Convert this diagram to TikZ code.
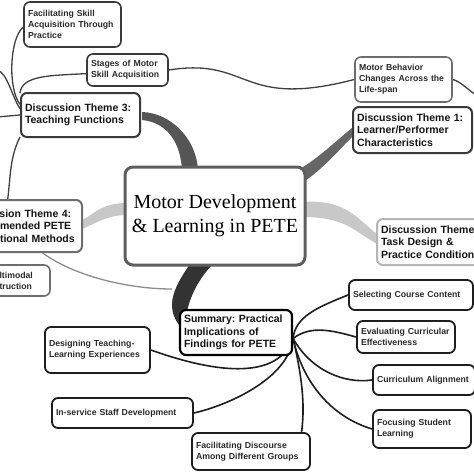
\documentclass[tikz,border=0pt]{standalone}
\usepackage{fontspec}
\setmainfont{Liberation Sans}
\newfontfamily\hubfont{Liberation Serif}
\usetikzlibrary{
    calc,
    backgrounds
}
\definecolor{BranchDark}{HTML}{555555}
\definecolor{BranchMid}{HTML}{666666}
\definecolor{BranchDeep}{HTML}{333333}
\definecolor{BranchPale}{HTML}{C8C8C8}
\definecolor{EdgeDark}{HTML}{3A3A3A}
\definecolor{EdgeGrey}{HTML}{6E6E6E}
\definecolor{EdgePale}{HTML}{B5B5B5}
\definecolor{EdgeCore}{HTML}{5E5E5E}
\definecolor{LineDark}{HTML}{3F3F3F}
\definecolor{LineGrey}{HTML}{8C8C8C}
\definecolor{LineBlack}{HTML}{1E1E1E}
\definecolor{TextLeaf}{HTML}{2A2A2A}
\definecolor{TextTheme}{HTML}{141414}
\frenchspacing

\begin{document}
\begin{tikzpicture}[
                x=1pt, y=-1pt,
                leaf/.style={
                    draw=EdgeDark,
                    fill=white,
                    rounded corners=6pt,
                    line width=1.6pt,
                    inner xsep=4pt,
                    inner ysep=2pt,
                    align=left,
                    text=TextLeaf,
                    font=\fontsize{8.7}{11}\selectfont\bfseries
                },
                theme/.style={
                    leaf,
                    line width=2pt,
                    text=TextTheme,
                    font=\fontsize{10.5}{12.4}\selectfont\bfseries
                },
                outcome/.style={leaf, draw=LineBlack, line width=1.8pt},
                hub/.style={
                    draw=EdgeCore,
                    fill=white,
                    rounded corners=8pt,
                    line width=3pt,
                    align=center,
                    minimum width=180pt,
                    minimum height=98pt,
                    font=\hubfont\fontsize{20}{24}\selectfont
                },
                twig/.style={draw=LineDark, line width=1.3pt},
                spoke/.style={draw=LineBlack, line width=1.6pt}
            ]

                \useasboundingbox (0,0) rectangle (474,474);
                \clip (0,0) rectangle (474,474);


                \node[hub] (core) at (215,216) {Motor Development\\\& Learning in PETE};


                \node[leaf, text width=89pt, minimum height=45pt] (skillpractice) at (72.5,24.5)
                    {Facilitating Skill\\Acquisition Through\\Practice};

                \node[leaf, text width=73pt, minimum height=32pt] (stages) at (127.5,70)
                    {Stages of Motor\\Skill Acquisition};

                \node[theme, text width=111pt, minimum height=44pt] (theme3) at (80.5,115)
                    {Discussion Theme 3:\\Teaching Functions};


                \node[leaf, draw=EdgeGrey, text width=89pt, minimum height=45pt] (lifespan) at (403.5,79.5)
                    {Motor Behavior\\Changes Across the\\Life-span};

                \node[theme, text width=111pt, minimum height=46pt] (theme1) at (412.5,130)
                    {Discussion Theme 1:\\Learner/Performer\\Characteristics};


                \node[theme, draw=EdgeGrey, text width=113pt, minimum height=52pt] (theme4) at (21.5,226)
                    {Discussion Theme 4:\\Recommended PETE\\Instructional Methods};

                \node[leaf, draw=EdgeGrey, text width=59pt, minimum height=31pt] (multimodal) at (16.5,280.5)
                    {Multimodal\\Instruction};


                \node[theme, draw=EdgePale, text width=111pt, minimum height=46pt] (theme2) at (436.5,242)
                    {Discussion Theme 2:\\Task Design \&\\Practice Conditions};


                \node[theme, draw=black, line width=2.2pt, text width=104pt, minimum height=45pt] (summary) at (236,332.5)
                    {Summary: Practical\\Implications of\\Findings for PETE};

                \node[outcome, text width=116pt, minimum height=30pt] (content) at (411,295)
                    {Selecting Course Content};

                \node[outcome, text width=90pt, minimum height=32pt] (evaluating) at (406,337)
                    {Evaluating Curricular\\Effectiveness};

                \node[outcome, text width=94pt, minimum height=30pt] (alignment) at (424,380)
                    {Curriculum Alignment};

                \node[outcome, text width=90pt, minimum height=38pt] (focusing) at (422,429)
                    {Focusing Student\\Learning};

                \node[outcome, text width=97pt, minimum height=46pt] (designing) at (97.5,350)
                    {Designing Teaching-\\Learning Experiences};

                \node[outcome, text width=133pt, minimum height=30pt] (inservice) at (122.5,413)
                    {In-service Staff Development};

                \node[outcome, text width=110pt, minimum height=37pt] (discourse) at (251,451.5)
                    {Facilitating Discourse\\Among Different Groups};


                \coordinate (offa) at (-3,70);
                \coordinate (offb) at (-3,117);
                \coordinate (offc) at (480,98);
                \coordinate (joint) at (172,289);


                \begin{scope}[on background layer]

                \draw[twig] (theme3.170) .. controls +(-12,-15) and +(-14,12) .. (skillpractice.183);
                \draw[twig] (theme3.160) .. controls +(2,-18) and +(-35,2) .. (stages.185);
                \draw[twig] (offa) .. controls +(10,2) and +(-8,-12) .. (theme3.174);
                \draw[twig] (offb) -- (theme3.west);
                \draw[twig] (theme3.200) .. controls +(-10,20) and +(3,-25) .. (theme4.117);
                \draw[twig] (stages.east) .. controls +(82,-13) and +(-115,30) .. (lifespan.west);
                \draw[twig] (lifespan.east) .. controls +(8,2) and +(-12,-8) .. (offc);
                \draw[twig, draw=LineGrey] (theme4.-52) .. controls +(35,25) and +(-40,0) .. (joint);

                \draw[spoke] (summary.-6) .. controls +(2,-22) and +(-30,12) .. (content.west);
                \draw[spoke] (summary.-6) .. controls +(18,-14) and +(-22,-6) .. (evaluating.west);
                \draw[spoke] (summary.-6) .. controls +(18,32) and +(-28,4) .. (alignment.west);
                \draw[spoke] (summary.-6) .. controls +(10,45) and +(-40,-12) .. (focusing.west);
                \draw[spoke] (summary.-6) .. controls +(8,35) and +(4,-30) .. (discourse.21.5);
                \draw[spoke] (summary.-6) .. controls +(-5,40) and +(35,-8) .. (inservice.east);
                \draw[spoke] (summary.-6) .. controls +(-15,40) and +(70,25) .. (designing.east);

                \fill[BranchDark]
                    ($(core.north)+(-17,4)$) .. controls +(-2,-31) and +(29,1) .. ($(theme3.east)+(1,-3)$)
                    -- ($(theme3.east)+(1,5)$) .. controls +(22,2) and +(-2,-31) .. ($(core.north)+(-33,4)$)
                    -- cycle;

                \fill[BranchMid]
                    ($(core.north east)+(-6,3)$) .. controls +(17,-10) and +(-19,16) .. ($(theme1.west)+(1,-3)$)
                    -- ($(theme1.west)+(1,6)$) .. controls +(-14,14) and +(19,-12) .. ($(core.north east)+(-4,17)$)
                    -- cycle;

                \fill[BranchPale]
                    ($(core.east)+(-4,-14)$) .. controls +(44,-3) and +(-20,-15) .. ($(theme2.west)+(1,-8)$)
                    -- ($(theme2.west)+(1,2)$) .. controls +(-22,-12) and +(44,0) .. ($(core.east)+(-4,1)$)
                    -- cycle;

                \fill[BranchPale]
                    ($(core.west)+(4,-13)$) .. controls +(-28,0) and +(12,-5) .. ($(theme4.east)+(-1,-6)$)
                    -- ($(theme4.east)+(-1,3)$) .. controls +(18,-8) and +(-18,0) .. ($(core.west)+(4,-1)$)
                    -- cycle;

                \fill[BranchDeep]
                    ($(core.south)+(-1,-4)$) .. controls +(-20,22) and +(5,-20) .. ($(summary.north west)+(6,10)$)
                    -- ($(summary.west)+(3,-4)$) .. controls +(-20,-22) and +(-15,22) .. ($(core.south)+(-24,-4)$)
                    -- cycle;

                \end{scope}

            \end{tikzpicture}
\end{document}
